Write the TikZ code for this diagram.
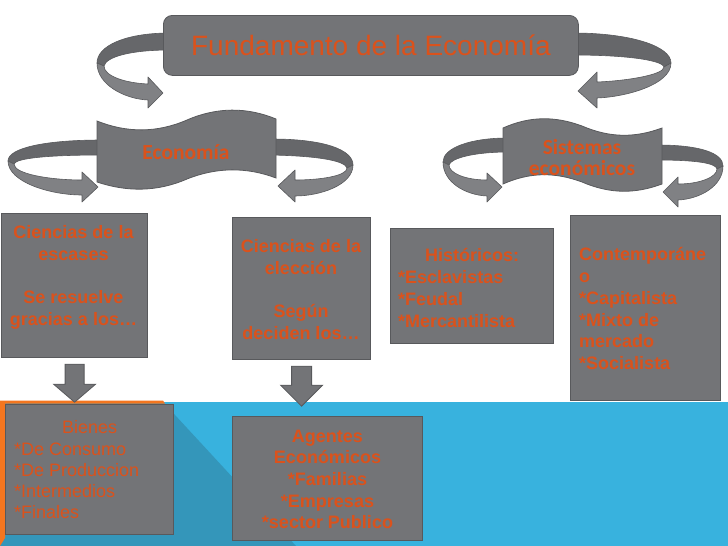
\documentclass[tikz,border=0pt]{standalone}
\usepackage{fontspec}
\setmainfont{Liberation Sans}
\newfontfamily\calib{Carlito}
\usetikzlibrary{calc}
\definecolor{boxgray}{RGB}{115,116,119}
\definecolor{boxline}{RGB}{88,89,92}
\definecolor{txtor}{RGB}{218,82,28}
\definecolor{ribtopc}{RGB}{102,103,106}
\definecolor{ribbotc}{RGB}{128,129,132}
\definecolor{bgblue}{RGB}{56,178,222}
\definecolor{bgdark}{RGB}{52,150,186}
\definecolor{bgorange}{RGB}{244,118,32}
\begin{document}
\begin{tikzpicture}[x=1pt,y=-1pt,
  box/.style={draw=boxline, line width=1.2pt, fill=boxgray, inner sep=0pt, anchor=north west},
  btxt/.style={text=txtor, inner sep=0pt, font=\fontsize{18}{21.7}\selectfont\bfseries},
  rtxt/.style={text=txtor, inner sep=0pt, font=\fontsize{18}{21.3}\selectfont},
  ribtop/.style={fill=ribtopc, draw=boxline, line width=0.6pt, line join=round},
  ribbot/.style={fill=ribbotc, draw=boxline, line width=0.6pt, line join=round},
  banner/.style={fill=boxgray, draw=boxline, line width=0.8pt},
  bantxt/.style={text=txtor, inner sep=0pt, align=center, font=\fontsize{21.5}{21}\calib\bfseries},
  blockarrow/.style={fill=boxgray, draw=boxline, line width=0.8pt, line join=miter}
]
\useasboundingbox (0,0) rectangle (728,546);
% background
\fill[white] (0,0) rectangle (728,546);
\fill[bgblue] (0,402) rectangle (728,546);
\fill[bgdark] (0,402) -- (163,402) -- (296,546) -- (0,546) -- cycle;
\fill[bgorange] (0,400.5) -- (163,400.5) -- (165,403.5) -- (5,403.5) -- (5,538) -- (0,546) -- cycle;

% ribbons of the title
\draw[ribtop] (170,33) .. controls (125,33) and (97,46) .. (97,63) -- (104,66) .. controls (106,57) and (130,50) .. (170,50) -- cycle;
\draw[ribbot] (97,63) .. controls (97,85) and (125,99) .. (148,100) -- (148,108) -- (163,93) -- (148,77) -- (148,84) .. controls (125,83) and (104,76) .. (104,66) -- cycle;
\draw[ribtop] (573,33) .. controls (630,33) and (671,46) .. (671,63) -- (664,67) .. controls (662,60) and (625,55) .. (573,55) -- cycle;
\draw[ribbot] (671,63) .. controls (671,85) and (625,97) .. (597,98) -- (597,108) -- (578,91) -- (597,72) -- (597,82) .. controls (625,81) and (664,75) .. (664,67) -- cycle;

% ribbons of Economia
\draw[ribtop] (102,140) .. controls (45,140) and (8,148) .. (8,161) -- (14,164) .. controls (16,158) and (50,155) .. (102,155) -- cycle;
\draw[ribbot] (8,161) .. controls (8,182) and (50,195) .. (82,195) -- (82,202) -- (98,187) -- (82,172) -- (82,180) .. controls (50,180) and (14,174) .. (14,164) -- cycle;
\draw[ribtop] (271,139) .. controls (325,139) and (353,150) .. (353,165) -- (347,168) .. controls (345,161) and (320,156) .. (271,155) -- cycle;
\draw[ribbot] (353,165) .. controls (353,185) and (320,196) .. (295,196) -- (295,202) -- (278,186) -- (295,170) -- (295,180) .. controls (320,180) and (347,176) .. (347,168) -- cycle;

% ribbons of Sistemas
\draw[ribtop] (508,138) .. controls (470,138) and (443,148) .. (443,162) -- (449,165) .. controls (451,158) and (475,152) .. (508,152) -- cycle;
\draw[ribbot] (443,162) .. controls (443,182) and (465,195) .. (487,196) -- (487,202) -- (502,187) -- (487,173) -- (487,180) .. controls (465,180) and (449,173) .. (449,165) -- cycle;
\draw[ribtop] (657,145) .. controls (700,145) and (723,153) .. (723,166) -- (717,169) .. controls (716,163) and (695,160) .. (657,160) -- cycle;
\draw[ribbot] (723,166) .. controls (723,186) and (700,199) .. (678,200) -- (678,207) -- (663,192) -- (678,177) -- (678,184) .. controls (700,184) and (717,177) .. (717,169) -- cycle;

% title
\node[banner, rounded corners=9pt, minimum width=415pt, minimum height=60pt, anchor=north west,
  inner sep=0pt, text=txtor, font=\fontsize{28}{30}\selectfont] (title) at (163,15) {Fundamento de la Economía};

% banners
\draw[banner] (97,121) .. controls (127,133) and (157,133) .. (187,120) .. controls (217,107) and (247,107) .. (276,119) -- (276,178) .. controls (247,167) and (217,167) .. (187,179) .. controls (157,192) and (127,192) .. (97,182) -- cycle;
\node[bantxt] (econ) at (186,152) {Economía};
\draw[banner] (503,128) .. controls (530,116) and (555,116) .. (582,126) .. controls (610,138) and (635,138) .. (662,128) -- (662,184) .. controls (635,194) and (610,194) .. (582,182) .. controls (555,172) and (530,172) .. (503,184) -- cycle;
\node[bantxt] (sist) at (582,157.5) {Sistemas\\económicos};

% boxes
\node[box, minimum width=146pt, minimum height=144pt] (b1) at (1,213) {};
\node[box, minimum width=138pt, minimum height=142pt] (b2) at (232,217) {};
\node[box, minimum width=163pt, minimum height=115pt] (b3) at (390,228) {};
\node[box, minimum width=150pt, minimum height=185pt] (b4) at (570,215) {};
\node[box, minimum width=168pt, minimum height=130pt] (b5) at (5,404) {};
\node[box, minimum width=190pt, minimum height=124pt] (b6) at (232,416) {};

\node[btxt, align=center, anchor=north] (t1) at (73.5,225.5) {Ciencias de la\\escases\\[21.7pt]Se resuelve\\gracias a los…};
\node[btxt, align=center, anchor=north] (t2) at (301,239.5) {Ciencias de la\\elección\\[21.7pt]Según\\deciden los…};
\node[btxt, align=left, anchor=north west] (t3) at (398,248.5) {\hspace*{27pt}Históricos:\\*Esclavistas\\*Feudal\\*Mercantilista};
\node[btxt, align=left, anchor=north west] (t4) at (579,247.5) {Contemporáne\\o\\*Capitalista\\*Mixto de\\mercado\\*Socialista};
\node[rtxt, align=left, anchor=north west] (t5) at (14,420.5) {\hspace*{48pt}Bienes\\*De Consumo\\*De Produccion\\*Intermedios\\*Finales};
\node[btxt, align=center, anchor=north] (t6) at (327.5,429.5) {Agentes\\Económicos\\*Familias\\*Empresas\\*sector Publico};

% down block arrows, from box to box
\begin{scope}[shift={(b1.south)}]
  \draw[blockarrow] (-9.5,6) -- (9.5,6) -- (9.5,26) -- (21,26) -- (0,44) -- (-21,26) -- (-9.5,26) -- cycle;
\end{scope}
\begin{scope}[shift={(b2.south)}]
  \draw[blockarrow] (-10,6) -- (10,6) -- (10,25) -- (21,25) -- (0,46) -- (-21,25) -- (-10,25) -- cycle;
\end{scope}
\end{tikzpicture}
\end{document}
